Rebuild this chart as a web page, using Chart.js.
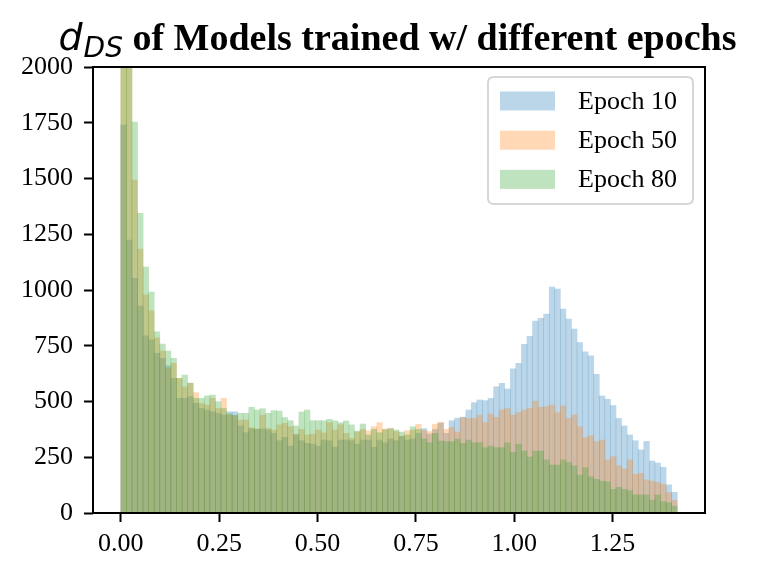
<!DOCTYPE html>
<html>
<head>
<meta charset="utf-8">
<script src="https://cdn.jsdelivr.net/npm/chart.js@4.4.0/dist/chart.umd.min.js"></script>
<style>
  html, body { margin: 0; padding: 0; background: #fff; }
  #wrap { width: 761px; height: 577px; }
</style>
</head>
<body>
<div id="wrap"><canvas id="hist" width="761" height="577"></canvas></div>
<script>
// HISTOGRAM DATA (counts per bin, 100 bins from 0 to sqrt(2))
const BIN_COUNT = 100;
const BIN_WIDTH = 1.41421 / BIN_COUNT;

const seriesNames = ["Epoch 10", "Epoch 50", "Epoch 80"];
const xTicks = [0, 0.25, 0.5, 0.75, 1.0, 1.25];
const yTicks = [0, 250, 500, 750, 1000, 1250, 1500, 1750, 2000];

const epoch10 = [
  1740, 1224, 1052, 928, 794, 776, 716, 694, 660, 604,
  514, 514, 522, 492, 469, 462, 454, 447, 439, 454,
  454, 390, 360, 378, 375, 377, 372, 357, 324, 339,
  300, 350, 324, 312, 309, 300, 327, 324, 295, 327,
  327, 324, 309, 327, 327, 295, 327, 315, 332, 324,
  343, 327, 332, 357, 378, 354, 375, 403, 357, 414,
  425, 430, 462, 495, 507, 504, 514, 566, 581, 556,
  647, 671, 756, 792, 861, 873, 892, 1013, 1004, 915,
  870, 825, 764, 723, 705, 622, 525, 510, 482, 424,
  390, 350, 324, 283, 321, 233, 224, 205, 126, 93
];

const epoch50 = [
  2350, 2200, 1493, 1184, 978, 907, 786, 726, 650, 671,
  604, 566, 581, 540, 492, 484, 514, 469, 514, 440,
  436, 417, 417, 382, 377, 439, 380, 372, 395, 402,
  387, 353, 375, 350, 354, 372, 359, 405, 372, 396,
  357, 335, 363, 375, 368, 387, 405, 376, 380, 365,
  345, 369, 372, 398, 370, 365, 398, 407, 375, 384,
  363, 427, 424, 424, 439, 405, 444, 429, 462, 469,
  439, 451, 462, 469, 502, 474, 477, 484, 450, 480,
  424, 440, 387, 338, 347, 320, 327, 238, 253, 212,
  197, 238, 173, 178, 148, 143, 137, 128, 91, 58
];

const epoch80 = [
  2500, 2150, 1753, 1344, 1103, 991, 812, 758, 726, 694,
  604, 619, 583, 514, 514, 525, 529, 499, 469, 445,
  438, 447, 447, 474, 462, 468, 447, 459, 457, 428,
  414, 390, 453, 462, 414, 414, 414, 420, 413, 405,
  413, 395, 367, 399, 350, 375, 360, 374, 378, 372,
  363, 350, 387, 375, 332, 315, 357, 323, 320, 320,
  332, 312, 327, 315, 315, 293, 300, 293, 293, 315,
  272, 309, 278, 251, 278, 278, 238, 215, 215, 238,
  227, 211, 170, 203, 163, 151, 143, 140, 106, 115,
  106, 100, 81, 81, 81, 58, 81, 51, 46, 31
];

const seriesColors = [
  "rgba(31,119,180,0.3)",
  "rgba(255,127,14,0.3)",
  "rgba(44,160,44,0.3)"
];

// PLOT BOX (pixels)
const PLOT_LEFT = 93, PLOT_TOP = 67, PLOT_RIGHT = 705, PLOT_BOTTOM = 513;
const W = 761, H = 577;

function toPoints(values) {
  return values.map((v, i) => ({ x: (i + 0.5) * BIN_WIDTH, y: v }));
}

const tickFont = { family: "'Liberation Serif', 'Times New Roman', serif", size: 26 };

// TITLE + FRAME + LEGEND
const decorPlugin = {
  id: "decor",
  afterDatasetsDraw(chart) {
    const ctx = chart.ctx;
    const a = chart.chartArea;
    ctx.save();
    ctx.strokeStyle = "#000";
    ctx.lineWidth = 2;
    ctx.strokeRect(a.left, a.top, a.right - a.left, a.bottom - a.top);
    ctx.restore();
  },
  afterDraw(chart) {
    const ctx = chart.ctx;
    const a = chart.chartArea;
    ctx.save();

    // title: math "d_DS" then bold serif text
    const mathFont = "italic 38px 'DejaVu Sans'";
    const subFont = "italic 28px 'DejaVu Sans'";
    const mainFont = "bold 38px 'Liberation Serif'";
    const rest = " of Models trained w/ different epochs";
    ctx.font = mathFont; const wD = ctx.measureText("d").width;
    ctx.font = subFont; const wS = ctx.measureText("DS").width;
    ctx.font = mainFont; const wT = ctx.measureText(rest).width;
    let x = (a.left + a.right) / 2 - (wD + wS + wT) / 2 - 2;
    const base = 50;
    ctx.fillStyle = "#000";
    ctx.textAlign = "left";
    ctx.textBaseline = "alphabetic";
    ctx.font = mathFont; ctx.fillText("d", x, base); x += wD + 1;
    ctx.font = subFont; ctx.fillText("DS", x, base + 7); x += wS;
    ctx.font = mainFont; ctx.fillText(rest, x, base);

    // legend box
    const bx = 488, by = 77, bw = 205, bh = 127, r = 6;
    ctx.beginPath();
    ctx.moveTo(bx + r, by);
    ctx.lineTo(bx + bw - r, by);
    ctx.quadraticCurveTo(bx + bw, by, bx + bw, by + r);
    ctx.lineTo(bx + bw, by + bh - r);
    ctx.quadraticCurveTo(bx + bw, by + bh, bx + bw - r, by + bh);
    ctx.lineTo(bx + r, by + bh);
    ctx.quadraticCurveTo(bx, by + bh, bx, by + bh - r);
    ctx.lineTo(bx, by + r);
    ctx.quadraticCurveTo(bx, by, bx + r, by);
    ctx.closePath();
    ctx.fillStyle = "rgba(255,255,255,0.8)";
    ctx.fill();
    ctx.strokeStyle = "#d6d6d6";
    ctx.lineWidth = 2;
    ctx.stroke();

    ctx.font = "26px 'Liberation Serif'";
    ctx.textBaseline = "middle";
    seriesNames.forEach((name, i) => {
      const cy = 101 + i * 39.2;
      ctx.fillStyle = seriesColors[i];
      ctx.fillRect(500, cy - 9.5, 55, 19);
      ctx.fillStyle = "#000";
      ctx.fillText(name, 578, cy + 1);
    });
    ctx.restore();
  }
};

const ctx = document.getElementById("hist").getContext("2d");

new Chart(ctx, {
  type: "bar",
  data: {
    datasets: [
      { label: seriesNames[0], data: toPoints(epoch10), backgroundColor: seriesColors[0], order: 3 },
      { label: seriesNames[1], data: toPoints(epoch50), backgroundColor: seriesColors[1], order: 2 },
      { label: seriesNames[2], data: toPoints(epoch80), backgroundColor: seriesColors[2], order: 1 }
    ]
  },
  options: {
    responsive: false,
    animation: false,
    devicePixelRatio: 1,
    grouped: false,
    barPercentage: 1,
    categoryPercentage: 1,
    borderWidth: 0,
    layout: { padding: { top: PLOT_TOP, right: W - PLOT_RIGHT, bottom: 0, left: 0 } },
    plugins: {
      legend: { display: false },
      title: { display: false },
      tooltip: { enabled: false }
    },
    scales: {
      x: {
        type: "linear",
        min: -0.0707,
        max: 1.4849,
        offset: false,
        afterBuildTicks: (s) => { s.ticks = xTicks.map((v) => ({ value: v })); },
        afterFit: (s) => { s.height = H - PLOT_BOTTOM; },
        ticks: {
          callback: (v) => v.toFixed(2),
          font: tickFont,
          color: "#000",
          padding: 7,
          maxRotation: 0,
          autoSkip: false
        },
        grid: {
          display: true,
          offset: false,
          drawOnChartArea: false,
          drawTicks: true,
          tickLength: 9,
          tickWidth: 2,
          tickColor: "#000"
        },
        border: { display: false }
      },
      y: {
        type: "linear",
        min: 0,
        max: 2000,
        afterBuildTicks: (s) => { s.ticks = yTicks.map((v) => ({ value: v })); },
        afterFit: (s) => { s.width = PLOT_LEFT; },
        ticks: {
          callback: (v) => String(v),
          font: tickFont,
          color: "#000",
          padding: 11
        },
        grid: {
          display: true,
          drawOnChartArea: false,
          drawTicks: true,
          tickLength: 9,
          tickWidth: 2,
          tickColor: "#000"
        },
        border: { display: false }
      }
    }
  },
  plugins: [decorPlugin]
});
</script>
</body>
</html>
